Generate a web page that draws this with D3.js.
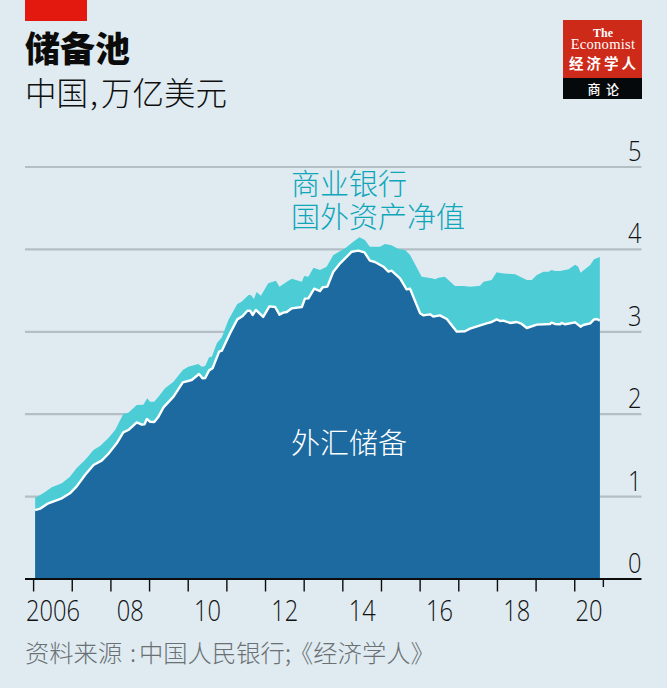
<!DOCTYPE html>
<html><head><meta charset="utf-8">
<script src="https://cdn.jsdelivr.net/npm/d3@7"></script>
<style>
html,body{margin:0;padding:0;background:#dfebf1}
svg{display:block}
text{font-family:"Noto Sans CJK SC",sans-serif}
.num{font-family:"Open Sans",sans-serif;font-weight:300}
</style></head><body>
<svg id="c" width="667" height="688"></svg>
<script>
const fxYears=[2006.04,2006.17,2006.38,2006.73,2006.94,2007.11,2007.33,2007.55,2007.76,2007.93,2008.15,2008.32,2008.45,2008.67,2008.80,2008.87,2008.93,2009.01,2009.12,2009.23,2009.36,2009.62,2009.86,2010.09,2010.28,2010.37,2010.44,2010.54,2010.63,2010.80,2010.87,2011.08,2011.27,2011.41,2011.53,2011.60,2011.67,2011.75,2011.94,2012.10,2012.25,2012.36,2012.46,2012.55,2012.68,2012.94,2013.02,2013.11,2013.26,2013.41,2013.48,2013.60,2013.755,2013.93,2014.23,2014.40,2014.56,2014.70,2014.83,2015.05,2015.18,2015.26,2015.48,2015.65,2015.74,2016.00,2016.08,2016.26,2016.34,2016.51,2016.69,2016.95,2017.16,2017.29,2017.72,2017.85,2017.98,2018.07,2018.15,2018.33,2018.50,2018.63,2018.76,2019.02,2019.36,2019.40,2019.49,2019.62,2019.66,2019.75,2020.01,2020.15,2020.22,2020.40,2020.50,2020.57,2020.65];
const fxValues=[.837,.854,.918,.979,1.040,1.121,1.262,1.383,1.436,1.517,1.646,1.780,1.808,1.901,1.873,1.877,1.942,1.909,1.905,1.970,2.083,2.213,2.387,2.415,2.488,2.435,2.439,2.532,2.557,2.759,2.771,2.981,3.151,3.192,3.256,3.256,3.204,3.265,3.180,3.309,3.301,3.208,3.232,3.240,3.285,3.301,3.402,3.406,3.523,3.495,3.540,3.548,3.730,3.831,3.972,3.985,3.964,3.863,3.847,3.790,3.730,3.742,3.649,3.515,3.523,3.224,3.200,3.212,3.184,3.200,3.155,3.002,3.006,3.038,3.103,3.119,3.151,3.131,3.135,3.107,3.119,3.095,3.046,3.087,3.095,3.111,3.095,3.091,3.107,3.091,3.115,3.062,3.083,3.103,3.151,3.155,3.135];
const totalYears=[2006.04,2006.25,2006.47,2006.73,2006.94,2007.11,2007.33,2007.55,2007.72,2007.93,2008.11,2008.32,2008.45,2008.67,2008.84,2008.94,2009.01,2009.12,2009.23,2009.40,2009.62,2009.86,2010.00,2010.26,2010.35,2010.44,2010.54,2010.61,2010.74,2010.87,2011.04,2011.27,2011.38,2011.56,2011.62,2011.70,2011.77,2011.88,2012.07,2012.27,2012.36,2012.55,2012.68,2012.94,2013.00,2013.11,2013.24,2013.41,2013.58,2013.755,2014.06,2014.27,2014.43,2014.57,2014.70,2014.96,2015.09,2015.26,2015.44,2015.61,2015.74,2016.04,2016.30,2016.39,2016.47,2016.64,2016.90,2017.12,2017.29,2017.55,2017.64,2017.85,2017.98,2018.11,2018.46,2018.76,2018.89,2019.02,2019.19,2019.32,2019.40,2019.49,2019.62,2019.84,2020.01,2020.09,2020.15,2020.40,2020.50,2020.65];
const totalValues=[.987,1.040,1.112,1.161,1.242,1.343,1.444,1.566,1.614,1.707,1.808,2.002,2.019,2.112,2.116,2.193,2.152,2.152,2.213,2.314,2.395,2.536,2.577,2.609,2.577,2.585,2.690,2.698,2.860,2.933,3.143,3.337,3.366,3.447,3.447,3.398,3.483,3.438,3.588,3.621,3.548,3.608,3.645,3.608,3.677,3.669,3.778,3.750,3.790,3.932,4.013,4.094,4.146,4.114,4.033,4.033,4.066,4.049,4.005,3.993,3.932,3.669,3.649,3.637,3.657,3.669,3.556,3.556,3.548,3.560,3.608,3.629,3.722,3.710,3.697,3.629,3.629,3.689,3.730,3.730,3.750,3.738,3.738,3.758,3.815,3.790,3.718,3.811,3.879,3.908];
const yTicks=[0,1,2,3,4,5];
const xTicks=[2006,2007,2008,2009,2010,2011,2012,2013,2014,2015,2016,2017,2018,2019,2020];
const xEndTick=[2020.74];
const xLabels=["2006","08","10","12","14","16","18","20"];
const xLabelAt=[2006.5,2008.5,2010.5,2012.5,2014.5,2016.5,2018.5,2020.37];

const svg=d3.select("#c");
const x=d3.scaleLinear().domain([2006,2021]).range([33.6,613.4]);
const y=d3.scaleLinear().domain([0,5]).range([579,167]);
const BG="#dfebf1",GRID="#b3bfc5",TEAL="#4ccdd6",BLUE="#1c6a9f",LABEL="#10a6ba";

svg.append("rect").attr("width",667).attr("height",688).attr("fill",BG);
svg.append("rect").attr("x",25).attr("y",0).attr("width",62).attr("height",21).attr("fill","#e3190f");

// titles
svg.append("text").attr("x",25).attr("y",62).attr("font-size",35).attr("font-weight",900).attr("fill","#0b0b0b").text("储备池");
const sub=svg.append("text").attr("y",105).attr("font-size",31.5).attr("font-weight",300).attr("fill","#0f0f0f");
sub.append("tspan").attr("x",25).text("中国");
sub.append("tspan").attr("x",90).text(",");
sub.append("tspan").attr("x",101).text("万亿美元");

// logo
const lg=svg.append("g");
lg.append("rect").attr("x",563).attr("y",20).attr("width",79).attr("height",58).attr("fill","#ce2a1a");
lg.append("rect").attr("x",563).attr("y",78).attr("width",79).attr("height",21).attr("fill","#06090b");
lg.append("text").attr("x",603).attr("y",37).attr("text-anchor","middle").attr("font-size",12).attr("font-weight",700).attr("fill","#fff").style("font-family","'Liberation Serif',serif").text("The");
lg.append("text").attr("x",603).attr("y",49).attr("text-anchor","middle").attr("font-size",14.5).attr("letter-spacing",.3).attr("fill","#fff").style("font-family","'Liberation Serif',serif").text("Economist");
lg.append("text").attr("x",604).attr("y",69).attr("text-anchor","middle").attr("font-size",14.5).attr("font-weight",700).attr("letter-spacing",3).attr("fill","#fff").text("经济学人");
lg.append("text").attr("x",606).attr("y",94).attr("text-anchor","middle").attr("font-size",13).attr("font-weight",500).attr("letter-spacing",5.5).attr("fill","#fff").text("商论");

// grid
svg.append("g").selectAll("line").data(yTicks.filter(d=>d>0)).join("line")
 .attr("x1",25).attr("x2",641.5).attr("y1",d=>y(d)).attr("y2",d=>y(d))
 .attr("stroke",GRID).attr("stroke-width",2.2);
svg.append("g").selectAll("text").data(yTicks).join("text").attr("class","num")
 .attr("x",641.5).attr("y",d=>y(d)-6).attr("text-anchor","end").attr("font-size",28).attr("fill","#111")
 .attr("textLength",13.5).attr("lengthAdjust","spacingAndGlyphs").text(d=>d);

// areas
const total=totalYears.map((t,i)=>[t,totalValues[i]]);
const fx=fxYears.map((t,i)=>[t,fxValues[i]]);
const area=d3.area().x(d=>x(d[0])).y0(y(0)).y1(d=>y(d[1]));
const line=d3.line().x(d=>x(d[0])).y(d=>y(d[1]));
svg.append("path").attr("d",area(total)).attr("fill",TEAL);
svg.append("path").attr("d",area(fx)).attr("fill",BLUE);
svg.append("path").attr("d",line(fx)).attr("fill","none").attr("stroke","#fff").attr("stroke-width",2.4).attr("stroke-linejoin","round");

// axis
const ax=svg.append("g").attr("transform",`translate(0,${y(0)})`);
ax.append("line").attr("x1",25).attr("x2",641.5).attr("stroke","#0c0c0c").attr("stroke-width",2);
ax.selectAll("line.t").data(xTicks).join("line").attr("class","t").attr("x1",d=>x(d)).attr("x2",d=>x(d)).attr("y1",0).attr("y2",12.5).attr("stroke","#0c0c0c").attr("stroke-width",1.4);
ax.selectAll("line.e").data(xEndTick).join("line").attr("class","e").attr("x1",d=>x(d)).attr("x2",d=>x(d)).attr("y1",0).attr("y2",8).attr("stroke","#0c0c0c").attr("stroke-width",1.4);
svg.append("g").selectAll("text").data(xLabels).join("text").attr("class","num")
 .attr("x",(d,i)=>x(xLabelAt[i])).attr("y",621).attr("text-anchor","middle").attr("font-size",29).attr("fill","#111")
 .attr("textLength",d=>d.length*13.5).attr("lengthAdjust","spacingAndGlyphs").text(d=>d);

// labels
svg.append("text").attr("x",291).attr("y",195).attr("font-size",29).attr("font-weight",300).attr("fill",LABEL).text("商业银行");
svg.append("text").attr("x",291).attr("y",228).attr("font-size",29).attr("font-weight",300).attr("fill",LABEL).text("国外资产净值");
svg.append("text").attr("x",291).attr("y",454).attr("font-size",29).attr("font-weight",300).attr("fill","#fff").text("外汇储备");
const src=svg.append("text").attr("y",662).attr("font-size",24.3).attr("font-weight",300).attr("fill","#6a7074");
src.append("tspan").attr("x",25).text("资料来源");
src.append("tspan").attr("x",130).text(":");
src.append("tspan").attr("x",139).text("中国人民银行");
src.append("tspan").attr("x",285).text(";");
src.append("tspan").attr("x",289).text("《经济学人》");
</script></body></html>
